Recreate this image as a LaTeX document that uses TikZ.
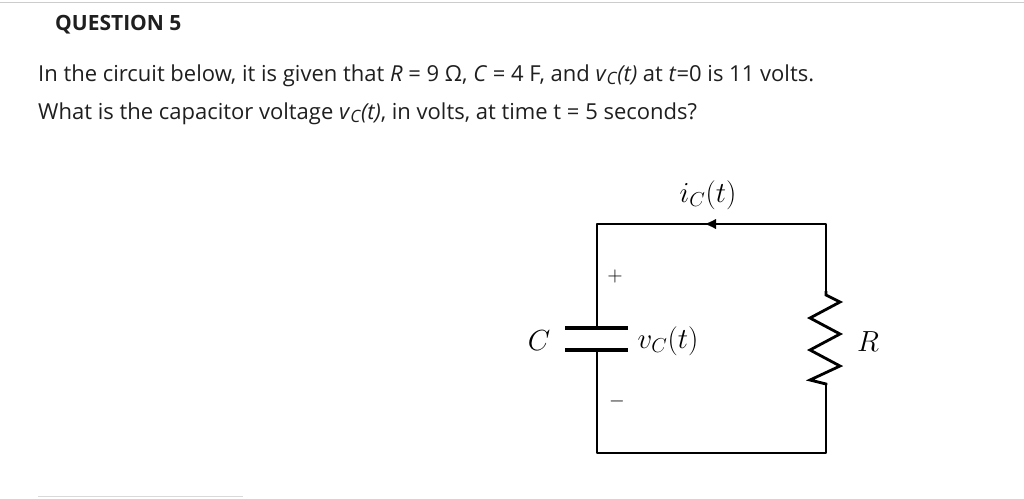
\documentclass[tikz,border=0pt]{standalone}
\usepackage{fontspec}
\setmainfont{Open Sans}
\usetikzlibrary{arrows.meta}
\begin{document}
\begin{tikzpicture}[x=1pt,y=-1pt,
  wire/.style={line width=1.3pt,line cap=round,line join=round},
  txt/.style={anchor=west,inner sep=0pt,text=black!88,font=\fontsize{22}{26}\selectfont},
  lbl/.style={inner sep=0pt,font=\fontsize{20}{24}\selectfont,scale=1.4}]
\useasboundingbox (0,0) rectangle (1024,498);
\fill[white] (0,0) rectangle (1024,498);
\draw[black!20,line width=1pt] (0,2) -- (1024,2);
\draw[black!15,line width=1pt] (38,496) -- (243,496);
\node[txt,font=\bfseries\fontsize{21}{24}\selectfont] (q) at (55,25) {QUESTION 5};
\node[txt] (l1) at (38,76) {In the circuit below, it is given that \textit{R} = 9 Ω, \textit{C} = 4 F, and \textit{v}{\fontsize{17}{20}\selectfont\raisebox{-3pt}{\textit{C}}}\textit{(t)} at \textit{t}=0 is 11 volts.};
\node[txt] (l2) at (38,114) {What is the capacitor voltage \textit{v}{\fontsize{17}{20}\selectfont\raisebox{-3pt}{\textit{C}}}\textit{(t)}, in volts, at time t = 5 seconds?};
% circuit
\coordinate (tl) at (597,224); \coordinate (tr) at (826,224);
\coordinate (bl) at (597,453); \coordinate (br) at (826,453);
\coordinate (c1) at (597,328); \coordinate (c2) at (597,350);
\coordinate (r1) at (826,291); \coordinate (r2) at (826,385);
\draw[wire] (c1) -- (tl) -- (tr) -- (r1);
\draw[wire] (c2) -- (bl) -- (br) -- (r2);
\draw[-{Latex[length=11pt,width=10pt]},line width=0.1pt] (722,224) -- (705,224);
\draw[line width=4pt] (565,328) -- (628,328);
\draw[line width=4pt] (565,350) -- (628,350);
\draw[line width=2.8pt,line join=miter] (r1) -- (826,295) -- (840,302) -- (810,318) -- (840,334) -- (810,350) -- (840,366) -- (810,380) -- (826,384) -- (r2);
\node[lbl] (ic) at (708,195) {$i_C(t)$};
\node[lbl,font=\fontsize{14}{17}\selectfont] (plus) at (615,276) {$+$};
\node[lbl,font=\fontsize{14}{17}\selectfont] (minus) at (617,401) {$-$};
\node[lbl] (C) at (539,341) {$C$};
\node[lbl] (vc) at (668,341) {$v_C(t)$};
\node[lbl] (R) at (868,342) {$R$};
\end{tikzpicture}
\end{document}
